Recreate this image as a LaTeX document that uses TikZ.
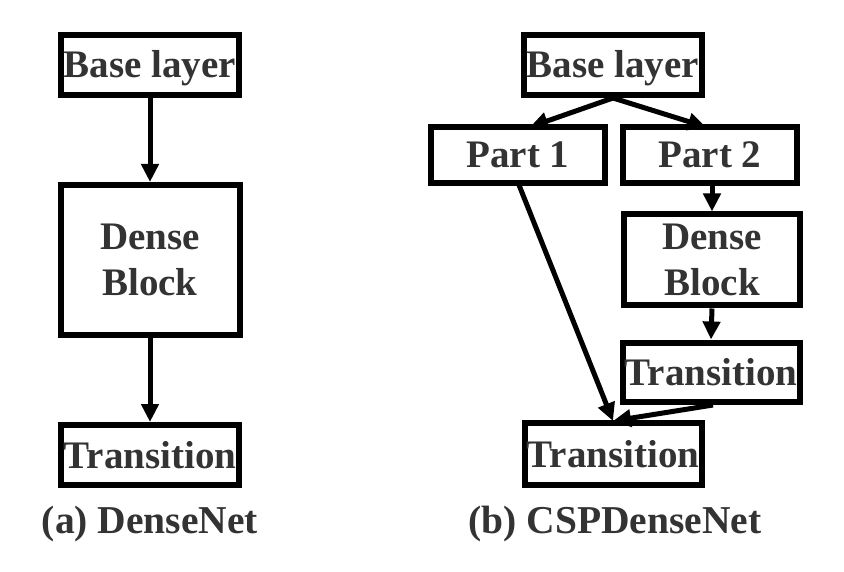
\documentclass[tikz,border=0pt]{standalone}
\usepackage{fontspec}
\setmainfont{Liberation Serif}
\usetikzlibrary{arrows.meta}
\definecolor{txt}{HTML}{333333}
\begin{document}
\begin{tikzpicture}[x=1pt,y=-1pt,
  box/.style={draw=black,line width=6pt,fill=white,inner sep=0pt,align=center,
    text=txt,font=\fontsize{39}{46}\selectfont\bfseries},
  oneline/.style={text height=26pt,text depth=0pt},
  arr/.style={line width=5pt,-{Triangle[length=18pt,width=17pt]}},
  captext/.style={text=txt,font=\fontsize{39.5}{44}\selectfont\bfseries,inner sep=0pt,anchor=base}]
\useasboundingbox (0,0) rectangle (844,572);
% (a) DenseNet
\node[box,oneline,minimum width=178pt,minimum height=60pt] (baseA) at (150,65) {Base layer};
\node[box,minimum width=179pt,minimum height=150pt] (denseA) at (150,260) {Dense\\Block};
\node[box,oneline,minimum width=178pt,minimum height=60pt] (transA) at (150,455) {Transition};
\node[captext] (capA) at (150,533) {(a) DenseNet};
\draw[arr] (baseA.south) -- (denseA.north);
\draw[arr] (denseA.south) -- (transA.north);
% (b) CSPDenseNet
\node[box,oneline,minimum width=178pt,minimum height=60pt] (baseB) at (613,65) {Base layer};
\node[box,oneline,minimum width=174pt,minimum height=56pt] (part1) at (518,155) {Part 1};
\node[box,oneline,minimum width=174pt,minimum height=56pt] (part2) at (710,155) {Part 2};
\node[box,minimum width=176pt,minimum height=91pt] (denseB) at (712,260) {Dense\\Block};
\node[box,oneline,minimum width=177pt,minimum height=59pt] (transB) at (711,372) {Transition};
\node[box,oneline,minimum width=177pt,minimum height=62pt] (transC) at (613,454) {Transition};
\node[captext] (capB) at (615,533) {(b) CSPDenseNet};
\coordinate (p1in) at (530,127);
\coordinate (p2in) at (706,127);
\coordinate (p1out) at (519,185);
\coordinate (tBout) at (713,405);
\coordinate (tCin) at (613,421);
\draw[arr] (baseB.south) -- (p1in);
\draw[arr] (baseB.south) -- (p2in);
\draw[arr] (part2.south -| denseB.north) -- (denseB.north);
\draw[arr] (denseB.south) -- (transB.north);
\draw[arr] (p1out) -- (tCin);
\draw[arr] (tBout) -- (tCin);
\end{tikzpicture}
\end{document}
